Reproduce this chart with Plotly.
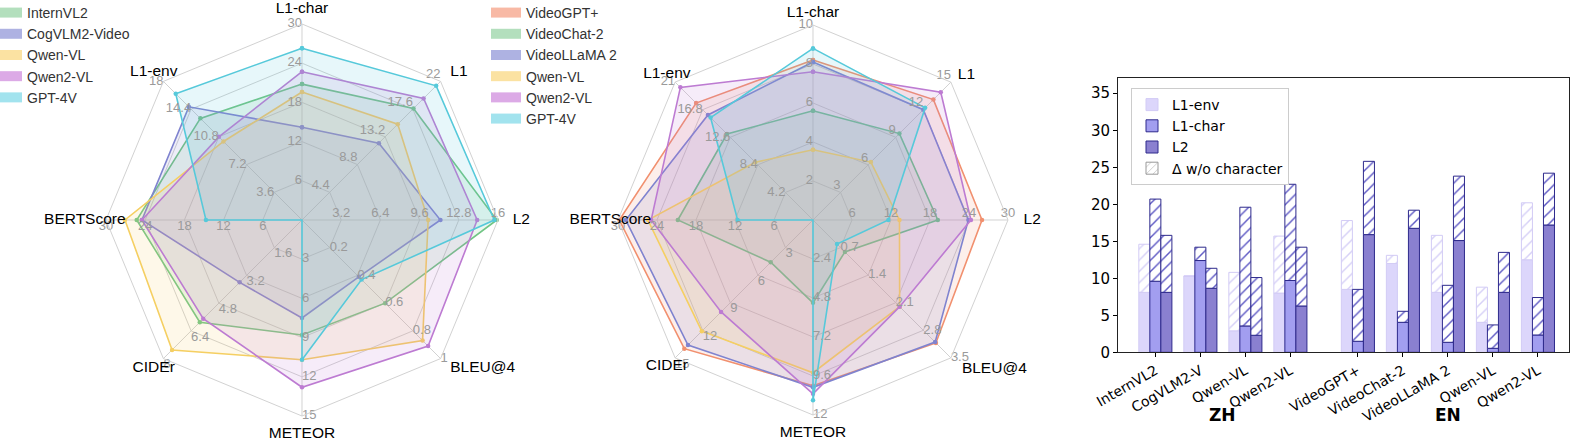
import plotly.graph_objects as go

# ---- radar data ----
axes = ["L1-char", "L1", "L2", "BLEU@4", "METEOR", "CIDEr", "BERTScore", "L1-env"]

zh_axis_max = [30, 22, 16, 1, 15, 8, 30, 18]
en_axis_max = [10, 15, 30, 3.5, 12, 15, 30, 21]

zh_models = ["InternVL2", "CogVLM2-Video", "Qwen-VL", "Qwen2-VL", "GPT-4V"]
zh_internvl2 = [20.8, 17.7, 15.9, 0.60, 8.8, 5.9, 25.3, 13.2]
zh_cogvlm2 = [14.2, 12.2, 11.3, 0.41, 7.5, 3.6, 24.5, 14.7]
zh_qwenvl = [19.6, 15.2, 10.3, 0.87, 10.7, 7.5, 27.1, 10.2]
zh_qwen2vl = [22.7, 19.3, 14.3, 0.91, 12.8, 5.7, 24.5, 10.8]
zh_gpt4v = [26.3, 21.3, 15.7, 0.43, 10.7, 0.0, 14.7, 16.4]

en_models = ["VideoGPT+", "VideoChat-2", "VideoLLaMA 2", "Qwen-VL", "Qwen2-VL", "GPT-4V"]
en_videogpt = [8.2, 13.1, 26.0, 3.12, 10.2, 14.0, 29.8, 17.8]
en_videochat2 = [5.6, 9.4, 19.2, 0.81, 5.1, 4.6, 20.8, 13.1]
en_videollama2 = [8.1, 12.0, 23.9, 3.10, 10.3, 13.6, 28.8, 16.0]
en_qwenvl = [3.6, 6.3, 13.3, 2.2, 9.4, 12.1, 25.4, 8.8]
en_qwen2vl = [7.6, 13.9, 24.3, 2.2, 10.7, 10.0, 24.9, 20.2]
en_gpt4v = [8.8, 12.2, 11.6, 0.61, 11.1, 0.0, 11.6, 15.6]

# ---- bar data ----
bar_models = ["InternVL2", "CogVLM2-V", "Qwen-VL", "Qwen2-VL",
              "VideoGPT+", "VideoChat-2", "VideoLLaMA 2", "Qwen-VL", "Qwen2-VL"]
bar_groups = ["ZH", "ZH", "ZH", "ZH", "EN", "EN", "EN", "EN", "EN"]
env_with = [8.1, 10.3, 2.9, 8.0, 8.5, 12.0, 8.1, 4.05, 12.5]
env_without = [14.6, 10.3, 10.8, 15.7, 17.8, 13.1, 15.8, 8.8, 20.2]
char_with = [9.6, 12.4, 3.56, 9.7, 1.49, 4.05, 1.35, 0.54, 2.34]
char_without = [20.7, 14.2, 19.6, 22.7, 8.5, 5.54, 9.05, 3.7, 7.4]
l2_with = [8.1, 8.65, 2.3, 6.26, 15.9, 16.75, 15.1, 8.1, 17.2]
l2_without = [15.8, 11.35, 10.1, 14.2, 25.8, 19.2, 23.8, 13.5, 24.2]

GREEN = ("#72c585", "#b3dfbd")
BLUE = ("#7f83cf", "#aeb2e2")
YELLOW = ("#f5cf62", "#fbe2a2")
PURPLE = ("#bd7bd2", "#dcaae6")
CYAN = ("#56c9da", "#a2e3ee")
SALMON = ("#f1906f", "#f8b9a5")

RADAR_FONT = "Liberation Sans, Arial, sans-serif"
BAR_FONT = "DejaVu Sans, sans-serif"

W, H = 1575, 444
LABEL_RANGE = 1.12  # radial range of the (invisible) polar holding the axis names


def rgba(hex_color, alpha):
    h = hex_color.lstrip("#")
    r, g, b = int(h[0:2], 16), int(h[2:4], 16), int(h[4:6], 16)
    return f"rgba({r},{g},{b},{alpha})"


def add_radar(fig, subplot, label_subplot, legend, models, series, colors, axis_max,
              center_text, label_r, label_pos):
    for name, vals, (line_c, legend_c) in zip(models, series, colors):
        r = [v / m for v, m in zip(vals, axis_max)]
        fig.add_trace(go.Scatterpolar(
            r=r + r[:1], theta=axes + axes[:1], subplot=subplot,
            mode="lines+markers", fill="toself", fillcolor=rgba(line_c, 0.14),
            line=dict(color=line_c, width=1.6), marker=dict(size=4.5, color=line_c),
            showlegend=False, hoverinfo="skip",
        ))
        # legend-only patch
        fig.add_trace(go.Scatterpolar(
            r=[None], theta=[None], subplot=subplot, mode="lines",
            line=dict(color=legend_c, width=10), name=name, legend=legend,
        ))

    # per-axis tick labels
    positions = ["middle left", "top left", "top center", "middle right",
                 "middle right", "bottom right", "bottom center", "middle left"]
    rr, tt, txt, tpos = [], [], [], []
    for ax, m, p in zip(axes, axis_max, positions):
        for k in range(1, 6):
            rr.append(k / 5)
            tt.append(ax)
            txt.append(f"{round(m * k / 5, 2):g}")
            tpos.append(p)
    fig.add_trace(go.Scatterpolar(
        r=rr, theta=tt, text=txt, textposition=tpos, mode="text", subplot=subplot,
        textfont=dict(family=RADAR_FONT, size=13, color="#9a9a9a"),
        showlegend=False, hoverinfo="skip",
    ))
    fig.add_trace(go.Scatterpolar(
        r=[0], theta=[axes[0]], text=[f"<b>{center_text}</b>"], mode="text", subplot=subplot,
        textfont=dict(family="DejaVu Sans, sans-serif", size=21, color="#222"),
        showlegend=False, hoverinfo="skip",
    ))
    # axis names, on a larger invisible polar sharing the same centre
    fig.add_trace(go.Scatterpolar(
        r=label_r, theta=axes, text=axes, textposition=label_pos, mode="text",
        subplot=label_subplot, cliponaxis=False,
        textfont=dict(family=RADAR_FONT, size=15.5, color="black"),
        showlegend=False, hoverinfo="skip",
    ))


fig = go.Figure()

add_radar(fig, "polar", "polar3", "legend", zh_models,
          [zh_internvl2, zh_cogvlm2, zh_qwenvl, zh_qwen2vl, zh_gpt4v],
          [GREEN, BLUE, YELLOW, PURPLE, CYAN], zh_axis_max, "ZH",
          [1.075, 1.07, 1.075, 1.07, 1.055, 1.07, 0.9, 1.07],
          ["middle center", "middle right", "middle right", "middle right",
           "bottom center", "middle center", "middle left", "middle center"])
add_radar(fig, "polar2", "polar4", "legend2", en_models,
          [en_videogpt, en_videochat2, en_videollama2, en_qwenvl, en_qwen2vl, en_gpt4v],
          [SALMON, GREEN, BLUE, YELLOW, PURPLE, CYAN], en_axis_max, "EN",
          [1.06, 1.05, 1.08, 1.08, 1.055, 1.06, 0.83, 1.06],
          ["middle center", "middle right", "middle right", "middle right",
           "bottom center", "middle center", "middle left", "middle center"])

# ---- grouped, stacked bars ----
pos = []
for i, g in enumerate(bar_groups):
    pos.append(i + (0.5 if g == "EN" else 0))

BW = 0.245
levels = [
    ("L1-env", env_with, env_without, "#dcd6fb", "#d2cbf5", "#d6d0f7"),
    ("L1-char", char_with, char_without, "#a29ef0", "#2e2a8c", "#5d58c4"),
    ("L2", l2_with, l2_without, "#8a80d0", "#2e2a8c", "#5d58c4"),
]
for k, (name, w, wo, fill_c, edge_c, hatch_c) in enumerate(levels):
    xs = [p + (k - 1) * BW for p in pos]
    fig.add_trace(go.Bar(
        x=xs, y=w, width=BW, name=name, legend="legend3",
        marker=dict(color=fill_c, line=dict(color=edge_c, width=1)),
        xaxis="x", yaxis="y", hoverinfo="skip",
    ))
    fig.add_trace(go.Bar(
        x=xs, y=[b - a for a, b in zip(w, wo)], base=w, width=BW, showlegend=False,
        marker=dict(color="white", line=dict(color=edge_c, width=1),
                    pattern=dict(shape="/", fgcolor=hatch_c, bgcolor="white",
                                 size=8, solidity=0.18, fillmode="replace")),
        xaxis="x", yaxis="y", hoverinfo="skip",
    ))
fig.add_trace(go.Bar(
    x=[None], y=[None], name="Δ w/o character", legend="legend3",
    marker=dict(color="white", line=dict(color="#999", width=1),
                pattern=dict(shape="/", fgcolor="#999", bgcolor="white", size=6, solidity=0.2)),
    xaxis="x", yaxis="y",
))

for grp in ["ZH", "EN"]:
    gx = [p for p, g in zip(pos, bar_groups) if g == grp]
    fig.add_annotation(
        x=sum(gx) / len(gx), y=0.0383, xref="x", yref="paper", text=f"<b>{grp}</b>",
        showarrow=False, font=dict(family=BAR_FONT, size=17, color="black"),
    )

radial = dict(range=[0, 1], tickvals=[0.2, 0.4, 0.6, 0.8, 1.0], showticklabels=False,
              ticks="", showline=False, gridcolor="#d2d2d2", gridwidth=1)
angular = dict(type="category", categoryarray=axes, direction="clockwise", rotation=90,
               gridcolor="#d2d2d2", linecolor="#d2d2d2", ticks="", showticklabels=False)
label_radial = dict(range=[0, LABEL_RANGE], visible=False)
label_angular = dict(type="category", categoryarray=axes, direction="clockwise", rotation=90,
                     showgrid=False, showline=False, showticklabels=False, ticks="")

legend_font = dict(family=RADAR_FONT, size=14, color="#333")

fig.update_layout(
    width=W, height=H,
    margin=dict(l=0, r=0, t=0, b=0, autoexpand=False),
    paper_bgcolor="white", plot_bgcolor="white",
    barmode="overlay",
    polar=dict(domain=dict(x=[0.06730, 0.31619], y=[0.06306, 0.94595]), gridshape="linear",
               bgcolor="white", radialaxis=radial, angularaxis=angular),
    polar2=dict(domain=dict(x=[0.39238, 0.64000], y=[0.06532, 0.94369]), gridshape="linear",
                bgcolor="white", radialaxis=radial, angularaxis=angular),
    polar3=dict(domain=dict(x=[0.05238, 0.33111], y=[0.01014, 0.99887]), gridshape="linear",
                bgcolor="rgba(0,0,0,0)", radialaxis=label_radial, angularaxis=label_angular),
    polar4=dict(domain=dict(x=[0.37752, 0.65486], y=[0.01261, 0.99640]), gridshape="linear",
                bgcolor="rgba(0,0,0,0)", radialaxis=label_radial, angularaxis=label_angular),
    xaxis=dict(domain=[0.70984, 0.99619], range=[-0.83, 9.19],
               tickvals=pos, ticktext=bar_models, tickangle=-30,
               ticks="outside", ticklen=4, tickcolor="black",
               showline=True, mirror=True, linecolor="#222", linewidth=1,
               showgrid=False, zeroline=False, automargin=False,
               tickfont=dict(family=BAR_FONT, size=14, color="black")),
    yaxis=dict(domain=[0.20653, 0.82500], range=[0, 37.1], dtick=5,
               ticks="outside", ticklen=4, tickcolor="black",
               showline=True, mirror=True, linecolor="#222", linewidth=1,
               showgrid=False, zeroline=False, automargin=False,
               tickfont=dict(family=BAR_FONT, size=15, color="black")),
    legend=dict(x=-0.00825, y=1.0068, xanchor="left", yanchor="top", bgcolor="rgba(0,0,0,0)",
                font=legend_font, tracegroupgap=0),
    legend2=dict(x=0.30857, y=1.0068, xanchor="left", yanchor="top", bgcolor="rgba(0,0,0,0)",
                 font=legend_font, tracegroupgap=0),
    legend3=dict(x=0.71810, y=0.80180, xanchor="left", yanchor="top", bgcolor="white",
                 bordercolor="#cccccc", borderwidth=1,
                 font=dict(family=BAR_FONT, size=14, color="black"), tracegroupgap=0),
)

# drop the browser's default 8px body margin so the figure sits at the page corner
fig.write_html("out.html", config={"displayModeBar": False},
               post_script="document.body.style.margin='0px';"
                           "document.body.style.overflow='hidden';")
